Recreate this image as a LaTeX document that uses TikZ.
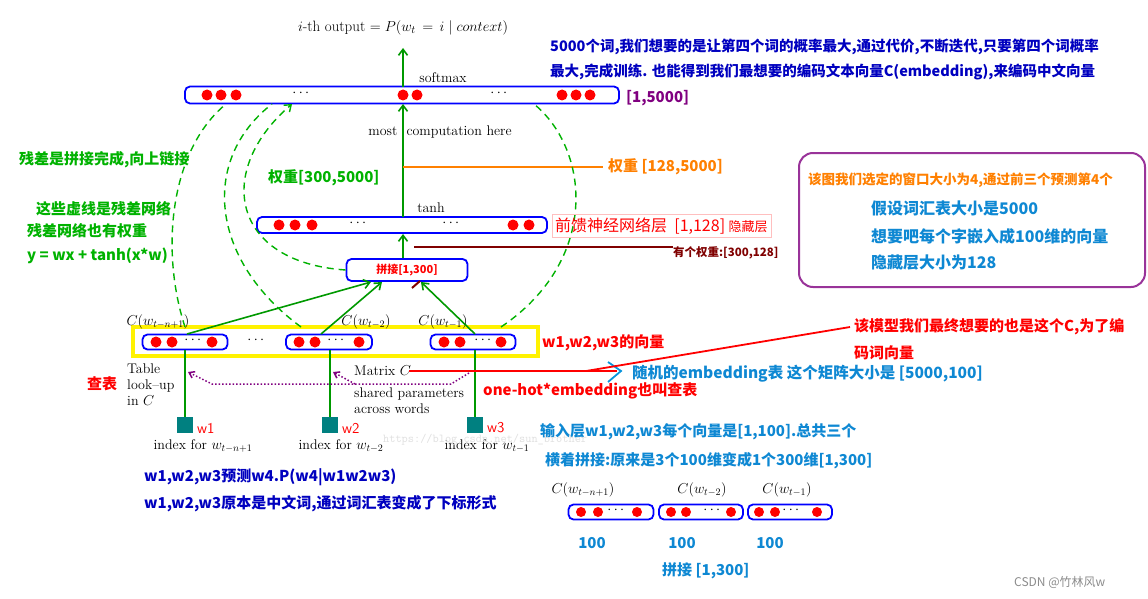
\documentclass[tikz,border=0pt]{standalone}
\usepackage{amsmath}
\usepackage{fontspec}
\newfontfamily\cjk{Noto Sans CJK SC}
\usepackage{tikz}
\usetikzlibrary{arrows.meta}

\tikzset{
  bar/.style={draw=blue,line width=1.8pt,rounded corners=5pt,inner sep=0pt},
  dot/.style={fill=red,draw=none},
  note/.style={font=\cjk\bfseries\fontsize{15}{17}\selectfont,anchor=west,inner sep=0pt},
  serif/.style={font=\fontsize{14}{16}\selectfont,inner sep=0pt},
  up/.style={draw=black!40!green,line width=1.6pt,-{Straight Barb[length=6pt,width=9pt]}},
  res/.style={draw=black!30!green,line width=1.4pt,dash pattern=on 7pt off 5pt},
}

\begin{document}
\begin{tikzpicture}[x=1pt,y=-1pt]
\useasboundingbox (0,0) rectangle (1148,599);
\fill[white] (0,0) rectangle (1148,599);

% layers
\node[bar,minimum width=434pt,minimum height=17pt] (softmax) at (402,95) {};
\node[bar,minimum width=290pt,minimum height=16pt] (tanh) at (402,225) {};
\node[bar,minimum width=121pt,minimum height=22pt] (concat) at (407,270)
  {\cjk\bfseries\color{red}\fontsize{11}{13}\selectfont 拼接[1,300]};
\draw[yellow,line width=3.5pt] (133,327) rectangle (538,356);
\node[bar,minimum width=85pt,minimum height=15pt] (v1) at (185,342) {};
\node[bar,minimum width=86pt,minimum height=15pt] (v2) at (329,342) {};
\node[bar,minimum width=85pt,minimum height=15pt] (v3) at (473,342) {};
\node[bar,minimum width=85pt,minimum height=15pt] (c1) at (611,512) {};
\node[bar,minimum width=84pt,minimum height=15pt] (c2) at (701,512) {};
\node[bar,minimum width=84pt,minimum height=15pt] (c3) at (790,512) {};

% dots
\foreach \x in {207,221,236,403,417,562,576,590} \fill[dot] (\x,95) circle (5.5);
\foreach \x in {279,295,312,513,529} \fill[dot] (\x,225) circle (5.5);
\foreach \x in {156,172,212,299,315,359,444,460,501} \fill[dot] (\x,342) circle (5.5);
\foreach \x in {581,598,637,671,686,731,759,775,817} \fill[dot] (\x,512) circle (5);
\foreach \x/\y in {302/95,500/95,359/225,452/225,194/342,257/342,337/342,484/342,617/512,713/512,792/512}
  \node[serif] at (\x,\y-2) {$\cdots$};

% serif labels
\node[serif,font=\fontsize{15}{17}\selectfont] (out) at (403,28) {$i$-th output $= P(w_t\,=\,i\mid context)$};
\node[serif] at (443,78) {softmax};
\node[serif] at (440,132) {most\ \ computation here};
\node[serif] at (431,208) {tanh};
\node[serif] at (158,322) {$C(w_{t-n+1})$};
\node[serif] at (366,322) {$C(w_{t-2})$};
\node[serif] at (443,322) {$C(w_{t-1})$};
\node[serif,align=left,anchor=north west] at (127,364) {Table\\look--up\\in $C$};
\node[serif,anchor=west] at (354,371) {Matrix $C$};
\node[serif,align=left,anchor=north west] at (354,388) {shared parameters\\across words};
\node[serif] at (583,490) {$C(w_{t-n+1})$};
\node[serif] at (702,490) {$C(w_{t-2})$};
\node[serif] at (787,490) {$C(w_{t-1})$};

% index squares
\foreach \n/\x/\s/\c in {1/185/{t-n+1}/203,2/330/{t-2}/341,3/475/{t-1}/487} {
  \node[fill=teal,minimum size=16pt,inner sep=0pt] (i\n) at (\x,425) {};
  \node[note,font=\sffamily\fontsize{15}{17}\selectfont,text=red] at (\x+12,428) {w\n};
  \node[serif] at (\c,446) {index for $w_{\s}$};
}
\foreach \n in {1,2,3} \draw[black!40!green,line width=1.6pt] (i\n.north) -- (v\n.south -| i\n);

% connections
\draw[up] (403,87) -- (403,48);
\draw[up] (403,217) -- (403,104);
\draw[up] (concat.north -| 403,0) -- (403,234);
\draw[up] (187,334) -- (371,282);
\draw[up] (321,334) -- (382,282);
\draw[up] (475,334) -- (421,282);
\draw[orange,line width=2pt] (403,167) -- (603,167);
\draw[red!50!black,line width=2pt] (414,247) -- (673,247);
\draw[red!50!black,line width=2pt] (412,288) -- (420,281);

% residual dashed arcs
\draw[res] (185,327) .. controls (160,250) and (170,150) .. (226,104);
\draw[res] (301,327) .. controls (210,260) and (200,160) .. (272,104);
\draw[res,-{Straight Barb[length=6pt,width=9pt]}] (concat.west) .. controls (230,262) and (215,170) .. (292,104);
\draw[res] (501,327) .. controls (600,260) and (590,150) .. (534,104);

% shared parameters
\draw[violet,line width=1.5pt,dotted,-{Straight Barb[length=5pt,width=7pt]}] (469,373) -- (451,384) -- (212,384) -- (188,372);
\draw[violet,line width=1.5pt,dotted,-{Straight Barb[length=5pt,width=7pt]}] (355,384) -- (333,372);

% matrix C arrows
\draw[red,line width=2pt] (409,371) -- (617,371);
\draw[cyan!80!blue,line width=1.8pt] (608,362) -- (621,371) -- (608,382);
\draw[red,line width=1.8pt] (586,371) -- (850,327);

% chinese notes
\node[note,text=black!30!green] at (19,160) {残差是拼接完成,向上链接};
\node[note,text=black!30!green] at (268,178) {权重[300,5000]};
\node[note,text=black!30!green] at (36,209) {这些虚线是残差网络};
\node[note,text=black!30!green] at (27,231) {残差网络也有权重};
\node[note,text=black!30!green] at (27,256) {y = wx + tanh(x*w)};
\node[note,text=orange] at (608,167) {权重 [128,5000]};
\node[note,text=red,draw=pink,inner sep=3pt,font=\cjk\fontsize{16}{18}\selectfont] at (552,226)
  {前馈神经网络层\ \ [1,128] {\fontsize{13}{15}\selectfont 隐藏层}};
\node[note,text=red!50!black,font=\cjk\bfseries\fontsize{11.5}{13}\selectfont] at (673,253) {有个权重:[300,128]};
\node[note,text=blue!75!black,font=\cjk\bfseries\fontsize{14.5}{16}\selectfont] at (550,47)
  {5000个词,我们想要的是让第四个词的概率最大,通过代价,不断迭代,只要第四个词概率};
\node[note,text=blue!75!black,font=\cjk\bfseries\fontsize{14.5}{16}\selectfont] at (550,72)
  {最大,完成训练. 也能得到我们最想要的编码文本向量C(embedding),来编码中文向量};
\node[note,text=violet] at (626,98) {[1,5000]};
\draw[violet!80,line width=2pt,rounded corners=14pt] (799,153) rectangle (1145,287);
\node[note,text=orange,font=\cjk\bfseries\fontsize{13.5}{15}\selectfont] at (808,180) {该图我们选定的窗口大小为4,通过前三个预测第4个};
\node[note,text=cyan!70!blue,font=\cjk\bfseries\fontsize{16}{18}\selectfont] at (871,208) {假设词汇表大小是5000};
\node[note,text=cyan!70!blue,font=\cjk\bfseries\fontsize{16}{18}\selectfont] at (871,236) {想要吧每个字嵌入成100维的向量};
\node[note,text=cyan!70!blue,font=\cjk\bfseries\fontsize{16}{18}\selectfont] at (871,263) {隐藏层大小为128};
\node[note,text=red] at (542,343) {w1,w2,w3的向量};
\node[note,text=red] at (854,327) {该模型我们最终想要的也是这个C,为了编};
\node[note,text=red] at (854,353) {码词向量};
\node[note,text=cyan!70!blue,font=\cjk\bfseries\fontsize{15.5}{17}\selectfont] at (632,374) {随机的embedding表\ 这个矩阵大小是 [5000,100]};
\node[note,text=red] at (483,391) {one-hot*embedding也叫查表};
\node[note,text=red] at (87,384) {查表};
\node[note,text=blue!75!black] at (144,477) {w1,w2,w3预测w4.P(w4|w1w2w3)};
\node[note,text=blue!75!black] at (144,504) {w1,w2,w3原本是中文词,通过词汇表变成了下标形式};
\node[note,text=cyan!70!blue] at (540,432) {输入层w1,w2,w3每个向量是[1,100].总共三个};
\node[note,text=cyan!70!blue] at (545,461) {横着拼接:原来是3个100维变成1个300维[1,300]};
\foreach \x in {592,682,770} \node[note,text=cyan!70!blue,anchor=center] at (\x,543) {100};
\node[note,text=cyan!70!blue] at (662,571) {拼接 [1,300]};
\node[note,text=black!12,font=\ttfamily\fontsize{12}{14}\selectfont] at (383,440) {https://blog.csdn.net/sun\_brother};
\node[note,text=black!45,font=\cjk\fontsize{12}{14}\selectfont] at (1014,582) {CSDN @竹林风w};
\end{tikzpicture}
\end{document}
